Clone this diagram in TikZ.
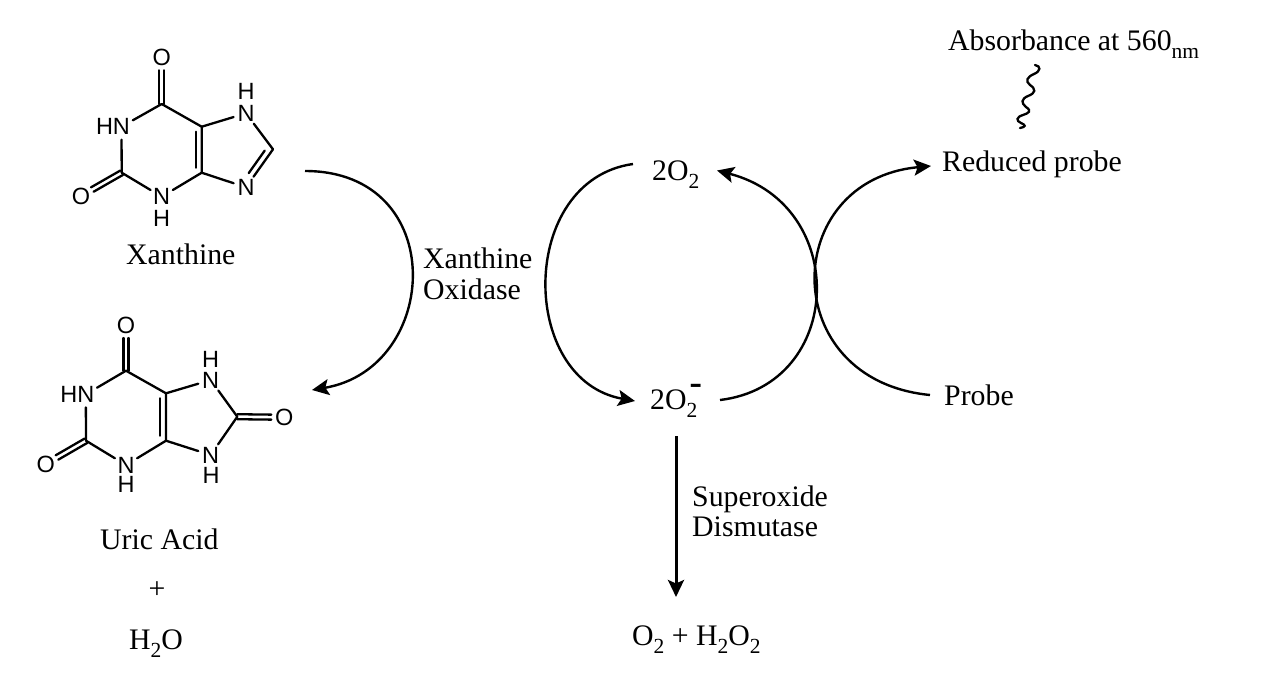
\documentclass[tikz,border=0pt]{standalone}
\usepackage{fontspec}
\setmainfont{Liberation Serif}
\newfontfamily\atomfont{Liberation Sans}
\usetikzlibrary{arrows.meta}
\newcommand{\lowsub}[1]{\raisebox{-0.28em}{\fontsize{21.5}{22}\selectfont #1}}
\tikzset{
  x=1pt,y=-1pt,
  lbl/.style={anchor=base west,inner sep=0pt,font=\fontsize{29.8}{30}\selectfont},
  atom/.style={inner sep=0pt,font=\atomfont\fontsize{23.5}{24}\selectfont},
  bond/.style={line width=2.3pt,line cap=round},
  bondN/.style={bond,shorten >=13pt},
  arc/.style={line width=2.4pt,-{Stealth[length=17pt,width=16pt,inset=3.5pt]}},
}
\begin{document}
\begin{tikzpicture}
\useasboundingbox (0,0) rectangle (1282,691);
% ---- Xanthine
\coordinate (xC6) at (161.7,104);
\coordinate (xC5) at (201.7,126.7);
\coordinate (xC4) at (201.7,172.7);
\coordinate (xC2) at (121.7,172.7);
\coordinate (xC8) at (273,149.3);
\coordinate (xN1) at (121.5,126.7);
\coordinate (xN3) at (161.7,196.7);
\coordinate (xN7) at (246,113.3);
\coordinate (xN9) at (246,187.3);
\coordinate (xO6) at (161.7,57.3);
\coordinate (xO2) at (81,196);
\node[atom] (xoa) at (xO6) {O};
\node[atom] (xob) at (xO2) {O};
\node[atom] (xhn) at (113,126.7) {HN};
\node[atom] (xn3) at (xN3) {N};
\node[atom] (xh3) at (161.7,218) {H};
\node[atom] (xn7) at (xN7) {N};
\node[atom] (xh7) at (246,91.7) {H};
\node[atom] (xn9) at (xN9) {N};
\draw[bond] (xC6) -- (xC5) -- (xC4);
\draw[bondN] (xC6) -- (xN1);
\draw[bondN] (xC2) -- (xN1);
\draw[bondN] (xC2) -- (xN3);
\draw[bondN] (xC4) -- (xN3);
\draw[bondN] (xC5) -- (xN7);
\draw[bondN] (xC4) -- (xN9);
\draw[bondN] (xC8) -- (xN7);
\draw[bondN] (xC8) -- (xN9);
\draw[bond,shorten >=13pt] ([xshift=-2.5pt]xC6) -- ([xshift=-2.5pt]xO6);
\draw[bond,shorten >=13pt] ([xshift=2.5pt]xC6) -- ([xshift=2.5pt]xO6);
\draw[bond,shorten >=13pt] ([xshift=-1.3pt,yshift=2.2pt]xC2) -- ([xshift=-1.3pt,yshift=2.2pt]xO2);
\draw[bond,shorten >=13pt] ([xshift=1.3pt,yshift=-2.2pt]xC2) -- ([xshift=1.3pt,yshift=-2.2pt]xO2);
\draw[bond,shorten >=5pt,shorten <=5pt] ([xshift=-6pt]xC5) -- ([xshift=-6pt]xC4);
\draw[bond,shorten >=13pt,shorten <=6pt] ([xshift=-4.8pt,yshift=3.6pt]xC8) -- ([xshift=-4.8pt,yshift=3.6pt]xN9);
\node[lbl] (xanth) at (126,264) {Xanthine};
% ---- Uric acid
\coordinate (uC6) at (126,370.7);
\coordinate (uC5) at (166,393.3);
\coordinate (uC4) at (166,440.7);
\coordinate (uC2) at (86,440.7);
\coordinate (uC8) at (237.3,416.7);
\coordinate (uN1) at (85.8,394.3);
\coordinate (uN3) at (126,465);
\coordinate (uN7) at (210.7,380);
\coordinate (uN9) at (210.7,455);
\coordinate (uO6) at (126,325);
\coordinate (uO2) at (45.7,464);
\coordinate (uO8) at (284.3,417.3);
\node[atom] (uoa) at (uO6) {O};
\node[atom] (uob) at (uO2) {O};
\node[atom] (uoc) at (uO8) {O};
\node[atom] (uhn) at (77.3,394.3) {HN};
\node[atom] (un3) at (uN3) {N};
\node[atom] (uh3) at (126,484.5) {H};
\node[atom] (un7) at (uN7) {N};
\node[atom] (uh7) at (210.7,359.5) {H};
\node[atom] (un9) at (uN9) {N};
\node[atom] (uh9) at (211,475) {H};
\draw[bond] (uC6) -- (uC5) -- (uC4);
\draw[bondN] (uC6) -- (uN1);
\draw[bondN] (uC2) -- (uN1);
\draw[bondN] (uC2) -- (uN3);
\draw[bondN] (uC4) -- (uN3);
\draw[bondN] (uC5) -- (uN7);
\draw[bondN] (uC4) -- (uN9);
\draw[bondN] (uC8) -- (uN7);
\draw[bondN] (uC8) -- (uN9);
\draw[bond,shorten >=13pt] ([xshift=-2.5pt]uC6) -- ([xshift=-2.5pt]uO6);
\draw[bond,shorten >=13pt] ([xshift=2.5pt]uC6) -- ([xshift=2.5pt]uO6);
\draw[bond,shorten >=13pt] ([xshift=-1.3pt,yshift=2.2pt]uC2) -- ([xshift=-1.3pt,yshift=2.2pt]uO2);
\draw[bond,shorten >=13pt] ([xshift=1.3pt,yshift=-2.2pt]uC2) -- ([xshift=1.3pt,yshift=-2.2pt]uO2);
\draw[bond,shorten >=5pt,shorten <=5pt] ([xshift=-6pt]uC5) -- ([xshift=-6pt]uC4);
\draw[bond,shorten >=13pt] ([yshift=-2.5pt]uC8) -- ([yshift=-2.5pt]uO8);
\draw[bond,shorten >=13pt] ([yshift=2.5pt]uC8) -- ([yshift=2.5pt]uO8);
\node[lbl] (uric) at (100,549) {Uric Acid};
\node[lbl,anchor=base] (plus) at (157,598) {+};
\node[lbl] (water) at (129,649) {H\lowsub{2}O};
% ---- Text
\node[lbl,align=left,anchor=north west] (xo) at (423,248) {Xanthine\\[0.5pt]Oxidase};
\node[lbl] (o2a) at (652,180) {2O\lowsub{2}};
\node[lbl] (o2m) at (650,409) {2O\lowsub{2}};
\node[font=\atomfont\fontsize{40}{40}\selectfont,inner sep=0pt] (minus) at (696.5,390) {-};
\node[lbl] (redp) at (942,171) {Reduced probe};
\node[lbl] (abs) at (948,50) {Absorbance at 560\lowsub{nm}};
\node[lbl] (probe) at (944,405) {Probe};
\node[lbl,align=left,anchor=north west] (sod) at (692,486) {Superoxide\\Dismutase};
\node[lbl] (prod) at (632,645) {O\lowsub{2} + H\lowsub{2}O\lowsub{2}};
% ---- Arcs
\coordinate (a1s) at (305,171);
\coordinate (a1e) at (312,390);
\coordinate (a2s) at (633,164);
\coordinate (a2e) at (635,401);
\coordinate (a3s) at (720,400);
\coordinate (a3e) at (717,170.5);
\coordinate (a4s) at (930,395);
\coordinate (a4e) at (931,166);
\draw[arc] (a1s) .. controls (450,171) and (441,368) .. (a1e);
\draw[arc] (a2s) .. controls (518,180) and (518,380) .. (a2e);
\draw[arc] (a3s) .. controls (845,385) and (850,205) .. (a3e);
\draw[arc] (a4s) .. controls (776,380) and (780,180) .. (a4e);
\coordinate (dn) at (676,436);
\coordinate (up) at (676,597);
\draw[line width=3pt,-{Stealth[length=17pt,width=16pt,inset=3.5pt]}] (dn) -- (up);
% ---- Squiggle
\draw[line width=2.3pt,line cap=round] (1035,65) .. controls (1041,66) and (1041,71) .. (1034,74)
  .. controls (1027,77) and (1025,81) .. (1030,85)
  .. controls (1036,89) and (1036,93) .. (1028,96)
  .. controls (1021,99) and (1021,103) .. (1026,107)
  .. controls (1032,111) and (1029,113) .. (1023,115)
  .. controls (1016,117) and (1016,121) .. (1021,123)
  .. controls (1026,125) and (1026,127) .. (1020,128);
\end{tikzpicture}
\end{document}
